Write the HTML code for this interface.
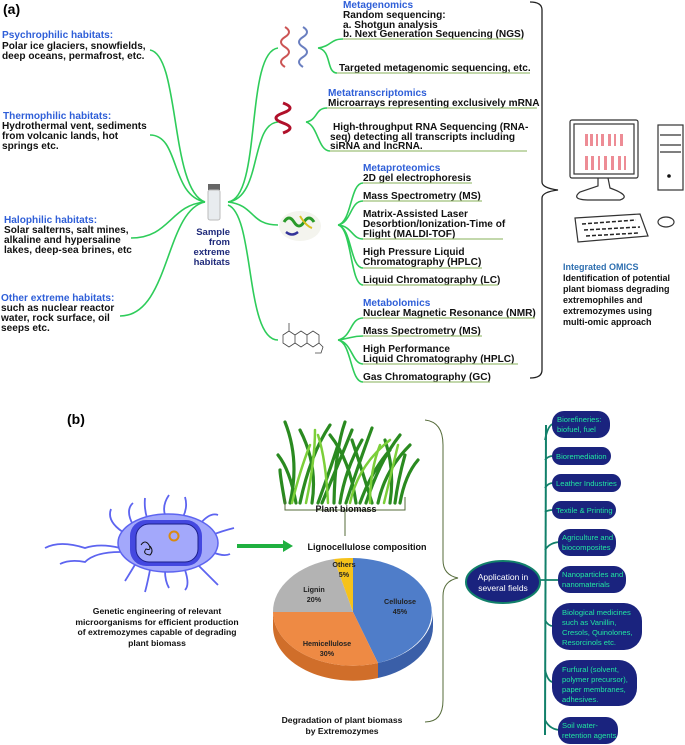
<!DOCTYPE html>
<html><head><meta charset="utf-8"><style>
html,body{margin:0;padding:0;background:#fff}
svg{display:block}
text{font-family:"Liberation Sans",Arial,sans-serif}
.b{font-weight:bold;font-size:10.1px;fill:#111}
.h{font-weight:bold;font-size:10.1px;fill:#2f5fd8}
.g{fill:none;stroke:#2ecc5a;stroke-width:1.6}
.u{stroke:#9fc07a;stroke-width:1.2}
.p{fill:#1a237e}
.pt{font-size:7.6px;fill:#21e6a0}
.s{font-weight:bold;font-size:9px;fill:#111}
</style></head><body>
<svg width="685" height="745" viewBox="0 0 685 745" xmlns="http://www.w3.org/2000/svg">
<text x="3" y="14" font-weight="bold" font-size="14">(a)</text>
<text class="h" x="2" y="38">Psychrophilic habitats:</text>
<text class="b" x="2" y="49">Polar  ice glaciers, snowfields,</text>
<text class="b" x="2" y="59">deep oceans, permafrost, etc.</text>
<text class="h" x="3" y="119">Thermophilic habitats:</text>
<text class="b" x="2" y="129">Hydrothermal vent,  sediments</text>
<text class="b" x="2" y="139">from volcanic lands,  hot</text>
<text class="b" x="2" y="149">springs etc.</text>
<text class="h" x="4" y="223">Halophilic habitats:</text>
<text class="b" x="4" y="233">Solar salterns, salt mines,</text>
<text class="b" x="4" y="243">alkaline and hypersaline</text>
<text class="b" x="4" y="253">lakes, deep-sea brines, etc</text>
<text class="h" x="1" y="301">Other extreme habitats:</text>
<text class="b" x="1" y="311">such as   nuclear reactor</text>
<text class="b" x="1" y="321">water, rock surface, oil</text>
<text class="b" x="1" y="331">seeps etc.</text>
<rect x="208" y="184" width="12" height="6" fill="#666"/>
<rect x="208" y="190" width="12" height="30" rx="2" fill="#e8ecef" stroke="#bbb"/>
<text x="230" y="235" text-anchor="end" font-weight="bold" font-size="9.5" fill="#1f2a7a">Sample</text>
<text x="230" y="245" text-anchor="end" font-weight="bold" font-size="9.5" fill="#1f2a7a">from</text>
<text x="230" y="255" text-anchor="end" font-weight="bold" font-size="9.5" fill="#1f2a7a">extreme</text>
<text x="230" y="265" text-anchor="end" font-weight="bold" font-size="9.5" fill="#1f2a7a">habitats</text>
<path class="g" d="M150,50 C180,55 170,190 205,202"/>
<path class="g" d="M150,135 C180,135 170,195 205,202"/>
<path class="g" d="M131,238 C170,238 170,205 205,202"/>
<path class="g" d="M120,316 C170,316 165,210 205,202"/>
<path class="g" d="M228,202 C262,198 245,52 278,48"/>
<path class="g" d="M228,202 C262,198 250,124 278,122"/>
<path class="g" d="M228,202 C255,205 250,225 278,225"/>
<path class="g" d="M228,205 C255,215 245,340 278,340"/>
<path d="M285,27 q8,5 0,10 q-8,5 0,10 q8,5 0,10 q-8,5 0,10" fill="none" stroke="#c55" stroke-width="2"/>
<path d="M303,27 q8,5 0,10 q-8,5 0,10 q8,5 0,10 q-8,5 0,10" fill="none" stroke="#6a7fc0" stroke-width="2"/>
<path d="M283,103 q14,5 0,10 q-14,5 0,10 q14,5 0,10" fill="none" stroke="#b0102a" stroke-width="3"/>
<ellipse cx="300" cy="226" rx="21" ry="15" fill="#f4f4ee"/>
<path d="M284,222 q5,-8 10,0 q5,8 10,0 q5,-8 10,0" fill="none" stroke="#2a9a2a" stroke-width="3"/>
<path d="M286,232 q6,5 12,0" fill="none" stroke="#333399" stroke-width="2.5"/>
<path d="M300,216 q6,10 12,12" fill="none" stroke="#d8c020" stroke-width="2"/>
<g fill="none" stroke="#444" stroke-width="0.8">
<path d="M283,335 l6,-4 6,4 0,8 -6,4 -6,-4z M295,335 l6,-4 6,4 0,8 -6,4 -6,-4z M307,335 l6,-4 6,4 0,8 -6,4 -6,-4z M289,331 l0,-8 M319,343 l4,4 -2,6 -6,0"/>
</g>
<g>
<text class="h" x="343" y="8">Metagenomics</text>
<text class="b" x="343" y="18">Random sequencing:</text>
<text class="b" x="343" y="28">a. Shotgun analysis</text>
<text class="b" x="343" y="37">b. Next Generation Sequencing (NGS)</text>
<line class="u" x1="343" y1="39" x2="523" y2="39"/>
<text class="b" x="339" y="71">Targeted metagenomic sequencing, etc.</text>
<line class="u" x1="337" y1="73" x2="530" y2="73"/>
<path class="g" d="M318,48 C332,46 330,39 343,39 M318,48 C332,50 326,73 337,73"/>
<text class="h" x="328" y="96">Metatranscriptomics</text>
<text class="b" x="328" y="106">Microarrays representing exclusively mRNA</text>
<line class="u" x1="327" y1="108" x2="537" y2="108"/>
<text class="b" x="333" y="130"> High-throughput RNA Sequencing (RNA-</text>
<text class="b" x="330" y="140">seq) detecting all transcripts including</text>
<text class="b" x="330" y="149">siRNA and lncRNA.</text>
<line class="u" x1="330" y1="151" x2="527" y2="151"/>
<path class="g" d="M306,122 C318,120 315,108 327,108 M306,122 C318,125 318,151 330,151"/>
<text class="h" x="363" y="171">Metaproteomics</text>
<text class="b" x="363" y="181">2D gel electrophoresis</text>
<line class="u" x1="363" y1="183" x2="472" y2="183"/>
<text class="b" x="363" y="199">Mass Spectrometry (MS)</text>
<line class="u" x1="363" y1="201" x2="482" y2="201"/>
<text class="b" x="363" y="217">Matrix-Assisted Laser</text>
<text class="b" x="363" y="227">Desorbtion/Ionization-Time of</text>
<text class="b" x="363" y="237">Flight (MALDI-TOF)</text>
<line class="u" x1="363" y1="239" x2="503" y2="239"/>
<text class="b" x="363" y="255">High Pressure Liquid</text>
<text class="b" x="363" y="265">Chromatography (HPLC)</text>
<line class="u" x1="363" y1="268" x2="482" y2="268"/>
<text class="b" x="363" y="283">Liquid Chromatography (LC)</text>
<line class="u" x1="363" y1="285" x2="498" y2="285"/>
<path class="g" d="M338,225 C352,222 350,183 363,183 M338,225 C352,222 350,201 363,201 M338,225 C352,226 352,239 363,239 M338,225 C352,228 350,268 363,268 M338,225 C352,228 350,285 363,285"/>
<text class="h" x="363" y="306">Metabolomics</text>
<text class="b" x="363" y="316">Nuclear Magnetic Resonance (NMR)</text>
<line class="u" x1="363" y1="318" x2="535" y2="318"/>
<text class="b" x="363" y="334">Mass Spectrometry (MS)</text>
<line class="u" x1="363" y1="336" x2="482" y2="336"/>
<text class="b" x="363" y="352">High Performance</text>
<text class="b" x="363" y="362"> Liquid Chromatography (HPLC)</text>
<line class="u" x1="363" y1="364" x2="518" y2="364"/>
<text class="b" x="363" y="380">Gas Chromatography (GC)</text>
<line class="u" x1="363" y1="382" x2="490" y2="382"/>
<path class="g" d="M338,340 C352,337 350,318 363,318 M338,340 C352,338 352,336 363,336 M338,340 C352,342 352,364 363,364 M338,340 C352,343 350,382 363,382"/>
</g>
<path d="M530,2 q12,0 12,8 L542,182 q0,6 16,8 q-16,2 -16,8 L542,370 q0,8 -12,8" fill="none" stroke="#222" stroke-width="1.3"/>
<g fill="none" stroke="#333" stroke-width="1.2">
<rect x="570" y="120" width="68" height="58" rx="2"/>
<rect x="574" y="124" width="60" height="50" fill="#fff"/>
<rect x="658" y="125" width="25" height="65" fill="#fff"/>
<line x1="660" y1="135" x2="681" y2="135"/><line x1="660" y1="145" x2="681" y2="145"/><line x1="660" y1="152" x2="681" y2="152"/>
<path d="M598,178 L598,186 L580,192 Q570,200 590,200 L620,200 Q632,196 610,188 L608,178"/>
<path d="M575,218 L640,214 L648,236 L578,242 Z"/>
<ellipse cx="666" cy="222" rx="8" ry="5"/>
</g>
<g fill="#e03040" opacity=".55">
<rect x="585" y="134" width="3" height="12"/><rect x="590" y="134" width="3" height="12"/><rect x="596" y="134" width="2" height="12"/><rect x="601" y="134" width="3" height="12"/><rect x="608" y="134" width="3" height="12"/><rect x="614" y="134" width="2" height="12"/><rect x="620" y="134" width="3" height="12"/>
<rect x="585" y="156" width="3" height="14"/><rect x="591" y="156" width="3" height="14"/><rect x="598" y="156" width="2" height="14"/><rect x="604" y="156" width="3" height="14"/><rect x="611" y="156" width="3" height="14"/><rect x="618" y="156" width="3" height="14"/><rect x="624" y="156" width="2" height="14"/>
</g>
<circle cx="669" cy="176" r="1.8" fill="#111"/>
<g stroke="#222" stroke-width="1.5" stroke-dasharray="4 2"><line x1="582" y1="224" x2="636" y2="220"/><line x1="584" y1="230" x2="640" y2="227"/><line x1="586" y1="236" x2="638" y2="233"/></g>
<text x="563" y="270" font-weight="bold" font-size="9" fill="#2e6fb0">Integrated OMICS</text>
<text class="b" x="563" y="281" style="font-size:9px">Identification of potential</text>
<text class="b" x="563" y="292" style="font-size:9px">plant biomass degrading</text>
<text class="b" x="563" y="303" style="font-size:9px">extremophiles and</text>
<text class="b" x="563" y="314" style="font-size:9px">extremozymes using</text>
<text class="b" x="563" y="325" style="font-size:9px">multi-omic approach</text>

<text x="67" y="424" font-weight="bold" font-size="14">(b)</text>
<g stroke-linecap="round" fill="none">
<path d="M290,503 Q300,460 285,422 M300,503 Q310,455 330,425 M312,503 Q318,465 300,430 M322,503 Q340,460 352,430 M334,503 Q335,450 345,422 M346,503 Q360,460 372,428 M356,503 Q350,460 330,435 M366,503 Q380,460 400,435 M378,503 Q385,470 410,445 M390,503 Q395,470 385,440 M400,503 Q405,475 418,460 M296,503 Q290,470 278,455 M340,503 Q345,470 362,440 M372,503 Q362,470 352,440 M285,503 Q280,475 280,470 M318,503 Q330,470 338,445 M360,503 Q372,470 390,450 M395,503 Q398,480 405,455" stroke="#2a8a20" stroke-width="3.2"/>
<path d="M306,503 Q315,460 315,430 M328,503 Q326,460 318,435 M350,503 Q358,465 390,440 M384,503 Q392,470 398,445 M292,503 Q300,470 310,445 M370,503 Q370,470 380,445" stroke="#7ccf3a" stroke-width="2.5"/>
</g>
<path d="M285,497 L285,510 L405,510 L405,497 M345,510 L345,536" fill="none" stroke="#556b3a" stroke-width="1"/>
<text x="346" y="512" text-anchor="middle" class="s">Plant biomass</text>
<text x="367" y="550" text-anchor="middle" class="s">Lignocellulose composition</text>
<g fill="none" stroke="#5d64f0" stroke-width="1.8">
<path d="M126,534 q-20,-12 -15,-25 M133,525 q-8,-15 0,-22 M147,518 q-3,-10 -2,-20 M165,515 q-3,-10 4,-20 M183,517 q5,-10 2,-20 M200,524 q10,-12 18,-9 M212,535 q10,-4 22,-7 M212,552 q12,5 18,2 M198,565 q10,10 20,20 M185,570 q5,15 0,20 M165,571 q0,10 4,17 M150,570 q-3,15 -5,22 M136,563 q-6,10 -11,18 M120,548 q-20,-5 -35,0 q-25,-8 -40,0 M120,552 q-25,0 -35,10 q-15,-3 -25,2"/>
</g>
<ellipse cx="168" cy="543" rx="50" ry="29" fill="#a3a8fb" stroke="#5d64f0" stroke-width="1.5"/>
<rect x="130" y="520" width="72" height="46" rx="16" fill="#4448e0"/>
<rect x="136" y="524" width="62" height="38" rx="13" fill="#a3a8fb" stroke="#1c1f8a" stroke-width="1"/>
<circle cx="174" cy="536" r="4.5" fill="none" stroke="#d98a10" stroke-width="2"/>
<path d="M141,545 q4,-6 8,0 q3,6 -3,4 q-4,5 4,6 q4,-4 0,-9" fill="none" stroke="#111" stroke-width="1"/>
<text x="157" y="614" text-anchor="middle" class="s" style="font-size:8.6px">Genetic engineering of relevant</text>
<text x="157" y="625" text-anchor="middle" class="s" style="font-size:8.6px">microorganisms for efficient production</text>
<text x="157" y="635" text-anchor="middle" class="s" style="font-size:8.6px">of extremozymes capable of degrading</text>
<text x="157" y="646" text-anchor="middle" class="s" style="font-size:8.6px">plant biomass</text>
<path d="M237,544 L283,544 L283,540 L293,546 L283,552 L283,548 L237,548 Z" fill="#1fb040"/>
<path d="M433,612 A80,54 0 0 1 378,663 L378,678 A80,54 0 0 0 433,626 Z" fill="#3a5fa8"/>
<path d="M378,663 A80,54 0 0 1 273,612 L273,626 A80,54 0 0 0 378,678 Z" fill="#d06e2a"/>
<path d="M353,612 L353,558 A80,54 0 0 1 378,663 Z" fill="#4f7dc9"/>
<path d="M353,612 L378,663 A80,54 0 0 1 273,612 Z" fill="#ee8a44"/>
<path d="M353,612 L273,612 A80,54 0 0 1 334,559 Z" fill="#b3b3b3"/>
<path d="M353,612 L334,559 A80,54 0 0 1 353,558 Z" fill="#f6c21a"/>
<g font-weight="bold" font-size="7.2" fill="#222" text-anchor="middle">
<text x="344" y="567">Others</text><text x="344" y="577">5%</text>
<text x="314" y="592">Lignin</text><text x="314" y="602">20%</text>
<text x="400" y="604">Cellulose</text><text x="400" y="614">45%</text>
<text x="327" y="646">Hemicellulose</text><text x="327" y="656">30%</text>
</g>
<text x="342" y="723" text-anchor="middle" class="s" style="font-size:8.6px">Degradation of plant biomass</text>
<text x="342" y="734" text-anchor="middle" class="s" style="font-size:8.6px">by Extremozymes</text>
<path d="M425,420 q18,2 18,25 L443,560 q0,15 15,18 q-15,3 -15,18 L443,700 q0,22 -18,22" fill="none" stroke="#556b3a" stroke-width="1"/>
<path d="M546,425 L545,735" stroke="#12806a" stroke-width="2" fill="none"/>
<g stroke="#12806a" stroke-width="1.8" fill="none">
<path d="M545,440 Q548,425 553,424"/><path d="M545,460 Q548,456 553,456"/><path d="M545,488 Q548,483 553,483"/><path d="M545,512 Q548,510 553,510"/><path d="M545,550 Q550,542 561,542"/><path d="M540,580 L561,580"/><path d="M545,620 Q548,626 553,626"/><path d="M545,670 Q548,682 553,682"/><path d="M545,720 Q550,730 561,730"/>
</g>
<ellipse cx="503" cy="582" rx="37" ry="21" fill="#1a237e" stroke="#12806a" stroke-width="2"/>
<text x="503" y="580" text-anchor="middle" font-size="8.5" fill="#fff">Application in</text>
<text x="503" y="591" text-anchor="middle" font-size="8.5" fill="#fff">several fields</text>
<g>
<rect class="p" x="552" y="411" width="58" height="27" rx="12"/>
<text class="pt" x="557" y="422">Biorefineries:</text><text class="pt" x="557" y="432">biofuel, fuel</text>
<rect class="p" x="552" y="447" width="59" height="18" rx="9"/>
<text class="pt" x="556" y="459">Bioremediation</text>
<rect class="p" x="552" y="474" width="69" height="18" rx="9"/>
<text class="pt" x="556" y="486">Leather Industries</text>
<rect class="p" x="552" y="501" width="64" height="18" rx="9"/>
<text class="pt" x="556" y="513">Textile &amp; Printing</text>
<rect class="p" x="558" y="529" width="58" height="27" rx="12"/>
<text class="pt" x="562" y="540">Agriculture and</text><text class="pt" x="562" y="550">biocomposites</text>
<rect class="p" x="558" y="566" width="68" height="27" rx="12"/>
<text class="pt" x="562" y="577">Nanoparticles  and</text><text class="pt" x="562" y="587">nanomaterials</text>
<rect class="p" x="552" y="603" width="90" height="47" rx="18"/>
<text class="pt" x="562" y="615">Biological medicines</text><text class="pt" x="562" y="625">such as Vanillin,</text><text class="pt" x="562" y="635">Cresols, Quinolones,</text><text class="pt" x="562" y="645">Resorcinols etc.</text>
<rect class="p" x="552" y="660" width="85" height="46" rx="18"/>
<text class="pt" x="562" y="672">Furfural (solvent,</text><text class="pt" x="562" y="682">polymer precursor),</text><text class="pt" x="562" y="692">paper membranes,</text><text class="pt" x="562" y="702">adhesives.</text>
<rect class="p" x="558" y="717" width="60" height="27" rx="12"/>
<text class="pt" x="562" y="728">Soil water-</text><text class="pt" x="562" y="738">retention agents</text>
</g>
</svg>
</body></html>
